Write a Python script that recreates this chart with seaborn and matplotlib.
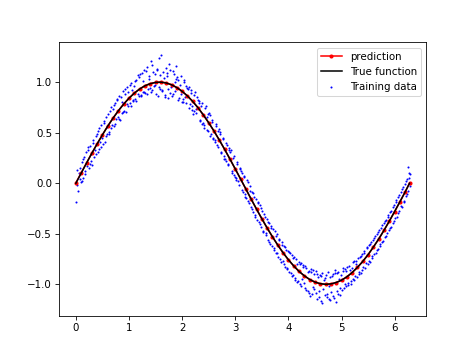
import matplotlib.pyplot as plt
import pandas as pd
import seaborn as sns

# curve values (x, y)
CURVE_X = [0.0, 0.1, 0.2, 0.3, 0.4, 0.5, 0.6, 0.7, 0.8, 0.9, 1.0, 1.1, 1.2, 1.3, 1.4, 1.5,
           1.6, 1.7, 1.8, 1.9, 2.0, 2.1, 2.2, 2.3, 2.4, 2.5, 2.6, 2.7, 2.8, 2.9, 3.0, 3.1,
           3.2, 3.3, 3.4, 3.5, 3.6, 3.7, 3.8, 3.9, 4.0, 4.1, 4.2, 4.3, 4.4, 4.5, 4.6, 4.7,
           4.8, 4.9, 5.0, 5.1, 5.2, 5.3, 5.4, 5.5, 5.6, 5.7, 5.8, 5.9, 6.0, 6.1, 6.2, 6.28]
TRUE_Y = [0.000, 0.100, 0.199, 0.296, 0.389, 0.479, 0.565, 0.644, 0.717, 0.783, 0.841,
          0.891, 0.932, 0.964, 0.985, 0.997, 1.000, 0.992, 0.974, 0.946, 0.909, 0.863,
          0.808, 0.746, 0.675, 0.598, 0.516, 0.427, 0.335, 0.239, 0.141, 0.042, -0.058,
          -0.158, -0.256, -0.351, -0.443, -0.530, -0.612, -0.688, -0.757, -0.818, -0.872,
          -0.916, -0.952, -0.978, -0.994, -1.000, -0.996, -0.982, -0.959, -0.926, -0.883,
          -0.832, -0.773, -0.706, -0.631, -0.551, -0.465, -0.374, -0.279, -0.182, -0.083, 0.000]
PRED_Y = [0.005, 0.102, 0.200, 0.297, 0.390, 0.480, 0.566, 0.645, 0.718, 0.784, 0.842,
          0.892, 0.933, 0.965, 0.986, 0.998, 1.001, 0.993, 0.975, 0.947, 0.910, 0.864,
          0.809, 0.746, 0.675, 0.598, 0.515, 0.426, 0.334, 0.238, 0.140, 0.041, -0.059,
          -0.159, -0.257, -0.352, -0.444, -0.531, -0.613, -0.689, -0.758, -0.819, -0.873,
          -0.917, -0.953, -0.979, -0.995, -1.001, -0.997, -0.983, -0.960, -0.927, -0.884,
          -0.833, -0.774, -0.707, -0.632, -0.552, -0.466, -0.375, -0.280, -0.183, -0.084, 0.002]

# noisy training samples, first batch
TRAIN_X = [0.01, 0.03, 0.06, 0.08, 0.11, 0.13, 0.16, 0.18, 0.21, 0.23, 0.26, 0.28,
           0.31, 0.33, 0.36, 0.38, 0.41, 0.43, 0.46, 0.48, 0.51, 0.53, 0.56, 0.58,
           0.61, 0.63, 0.66, 0.68, 0.71, 0.73, 0.76, 0.78, 0.81, 0.83, 0.86, 0.88,
           0.91, 0.93, 0.96, 0.98, 1.01, 1.03, 1.06, 1.08, 1.11, 1.13, 1.16, 1.18,
           1.21, 1.23, 1.26, 1.28, 1.31, 1.33, 1.36, 1.38, 1.41, 1.43, 1.46, 1.48,
           1.51, 1.53, 1.56, 1.58, 1.61, 1.63, 1.66, 1.68, 1.71, 1.73, 1.76, 1.78,
           1.81, 1.83, 1.86, 1.88, 1.91, 1.93, 1.96, 1.98, 2.01, 2.03, 2.06, 2.08,
           2.11, 2.13, 2.16, 2.18, 2.21, 2.23, 2.26, 2.28, 2.31, 2.33, 2.36, 2.38,
           2.41, 2.43, 2.46, 2.48, 2.51, 2.53, 2.56, 2.58, 2.61, 2.63, 2.66, 2.68,
           2.71, 2.73, 2.76, 2.78, 2.81, 2.83, 2.86, 2.88, 2.91, 2.93, 2.96, 2.98,
           3.01, 3.03, 3.06, 3.08, 3.11, 3.13, 3.16, 3.18, 3.21, 3.23, 3.26, 3.28,
           3.31, 3.33, 3.36, 3.38, 3.41, 3.43, 3.46, 3.48, 3.51, 3.53, 3.56, 3.58,
           3.61, 3.63, 3.66, 3.68, 3.71, 3.73, 3.76, 3.78, 3.81, 3.83, 3.86, 3.88,
           3.91, 3.93, 3.96, 3.98, 4.01, 4.03, 4.06, 4.08, 4.11, 4.13, 4.16, 4.18,
           4.21, 4.23, 4.26, 4.28, 4.31, 4.33, 4.36, 4.38, 4.41, 4.43, 4.46, 4.48,
           4.51, 4.53, 4.56, 4.58, 4.61, 4.63, 4.66, 4.68, 4.71, 4.73, 4.76, 4.78,
           4.81, 4.83, 4.86, 4.88, 4.91, 4.93, 4.96, 4.98, 5.01, 5.03, 5.06, 5.08,
           5.11, 5.13, 5.16, 5.18, 5.21, 5.23, 5.26, 5.28, 5.31, 5.33, 5.36, 5.38,
           5.41, 5.43, 5.46, 5.48, 5.51, 5.53, 5.56, 5.58, 5.61, 5.63, 5.66, 5.68,
           5.71, 5.73, 5.76, 5.78, 5.81, 5.83, 5.86, 5.88, 5.91, 5.93, 5.96, 5.98,
           6.01, 6.03, 6.06, 6.08, 6.11, 6.13, 6.16, 6.18, 6.21, 6.23, 6.26, 6.28,
           6.25, 6.27]
TRAIN_Y = [-0.19, -0.02, 0.10, 0.04, 0.21, 0.05, 0.26, 0.09,
           0.17, 0.36, 0.19, 0.29, 0.18, 0.40, 0.33, 0.47,
           0.52, 0.34, 0.41, 0.58, 0.39, 0.62, 0.47, 0.56,
           0.68, 0.51, 0.75, 0.58, 0.57, 0.79, 0.64, 0.83,
           0.86, 0.63, 0.80, 0.70, 0.71, 0.93, 0.78, 0.90,
           0.97, 0.76, 0.92, 0.81, 0.83, 1.02, 0.88, 1.05,
           1.08, 0.86, 1.01, 0.90, 0.89, 1.15, 0.93, 1.06,
           1.21, 0.92, 1.10, 0.97, 0.88, 1.13, 0.95, 1.07,
           1.27, 0.91, 1.04, 0.85, 1.09, 0.93, 1.18, 0.89,
           0.86, 1.11, 1.00, 1.16, 1.05, 0.82, 0.97, 0.88,
           0.80, 1.02, 0.85, 0.96, 0.93, 0.74, 0.89, 0.76,
           0.68, 0.87, 0.73, 0.85, 0.81, 0.63, 0.76, 0.59,
           0.58, 0.74, 0.66, 0.52, 0.69, 0.47, 0.61, 0.44,
           0.43, 0.59, 0.38, 0.52, 0.51, 0.31, 0.44, 0.27,
           0.24, 0.40, 0.19, 0.33, 0.31, 0.12, 0.25, 0.08,
           0.05, 0.21, 0.02, 0.14, 0.12, -0.07, 0.06, -0.11,
           -0.15, 0.01, -0.20, -0.08, -0.09, -0.28, -0.14, -0.31,
           -0.36, -0.19, -0.40, -0.25, -0.27, -0.47, -0.33, -0.51,
           -0.56, -0.39, -0.60, -0.44, -0.45, -0.66, -0.52, -0.69,
           -0.73, -0.55, -0.78, -0.61, -0.62, -0.83, -0.66, -0.85,
           -0.88, -0.69, -0.92, -0.74, -0.73, -0.96, -0.80, -0.97,
           -1.00, -0.79, -0.95, -0.83, -0.82, -1.06, -0.88, -1.09,
           -1.12, -0.85, -1.03, -0.90, -0.87, -1.15, -0.93, -1.07,
           -1.17, -0.89, -1.05, -0.94, -0.91, -1.13, -1.02, -1.16,
           -1.08, -0.90, -1.14, -0.86, -0.89, -1.10, -0.95, -1.04,
           -1.06, -0.84, -1.00, -0.87, -0.83, -1.01, -0.86, -0.97,
           -0.95, -0.77, -0.92, -0.80, -0.74, -0.90, -0.72, -0.86,
           -0.83, -0.67, -0.79, -0.63, -0.61, -0.78, -0.58, -0.72,
           -0.70, -0.52, -0.66, -0.48, -0.46, -0.62, -0.41, -0.57,
           -0.53, -0.36, -0.49, -0.31, -0.28, -0.43, -0.24, -0.37,
           -0.34, -0.17, -0.29, -0.12, -0.09, -0.24, -0.04, -0.18,
           -0.13, 0.04, -0.08, 0.09, 0.16, 0.05]

# noisy training samples, second batch
TRAIN_X2 = [0.02, 0.04, 0.07, 0.09, 0.12, 0.14, 0.17, 0.19, 0.22, 0.24, 0.27, 0.29,
            0.32, 0.34, 0.37, 0.39, 0.42, 0.44, 0.47, 0.49, 0.52, 0.54, 0.57, 0.59,
            0.62, 0.64, 0.67, 0.69, 0.72, 0.74, 0.77, 0.79, 0.82, 0.84, 0.87, 0.89,
            0.92, 0.94, 0.97, 0.99, 1.02, 1.04, 1.07, 1.09, 1.12, 1.14, 1.17, 1.19,
            1.22, 1.24, 1.27, 1.29, 1.32, 1.34, 1.37, 1.39, 1.42, 1.44, 1.47, 1.49,
            1.52, 1.54, 1.57, 1.59, 1.62, 1.64, 1.67, 1.69, 1.72, 1.74, 1.77, 1.79,
            1.82, 1.84, 1.87, 1.89, 1.92, 1.94, 1.97, 1.99, 2.02, 2.04, 2.07, 2.09,
            2.12, 2.14, 2.17, 2.19, 2.22, 2.24, 2.27, 2.29, 2.32, 2.34, 2.37, 2.39,
            2.42, 2.44, 2.47, 2.49, 2.52, 2.54, 2.57, 2.59, 2.62, 2.64, 2.67, 2.69,
            2.72, 2.74, 2.77, 2.79, 2.82, 2.84, 2.87, 2.89, 2.92, 2.94, 2.97, 2.99,
            3.02, 3.04, 3.07, 3.09, 3.12, 3.14, 3.17, 3.19, 3.22, 3.24, 3.27, 3.29,
            3.32, 3.34, 3.37, 3.39, 3.42, 3.44, 3.47, 3.49, 3.52, 3.54, 3.57, 3.59,
            3.62, 3.64, 3.67, 3.69, 3.72, 3.74, 3.77, 3.79, 3.82, 3.84, 3.87, 3.89,
            3.92, 3.94, 3.97, 3.99, 4.02, 4.04, 4.07, 4.09, 4.12, 4.14, 4.17, 4.19,
            4.22, 4.24, 4.27, 4.29, 4.32, 4.34, 4.37, 4.39, 4.42, 4.44, 4.47, 4.49,
            4.52, 4.54, 4.57, 4.59, 4.62, 4.64, 4.67, 4.69, 4.72, 4.74, 4.77, 4.79,
            4.82, 4.84, 4.87, 4.89, 4.92, 4.94, 4.97, 4.99, 5.02, 5.04, 5.07, 5.09,
            5.12, 5.14, 5.17, 5.19, 5.22, 5.24, 5.27, 5.29, 5.32, 5.34, 5.37, 5.39,
            5.42, 5.44, 5.47, 5.49, 5.52, 5.54, 5.57, 5.59, 5.62, 5.64, 5.67, 5.69,
            5.72, 5.74, 5.77, 5.79, 5.82, 5.84, 5.87, 5.89, 5.92, 5.94, 5.97, 5.99,
            6.02, 6.04, 6.07, 6.09, 6.12, 6.14, 6.17, 6.19, 6.22, 6.24, 6.27, 6.28]
TRAIN_Y2 = [0.13, -0.08, 0.15, 0.01, 0.02, 0.24, 0.12, 0.31,
            0.33, 0.15, 0.37, 0.22, 0.43, 0.26, 0.29, 0.49,
            0.31, 0.55, 0.36, 0.45, 0.60, 0.41, 0.66, 0.49,
            0.49, 0.71, 0.55, 0.73, 0.77, 0.59, 0.82, 0.66,
            0.64, 0.85, 0.69, 0.91, 0.88, 0.70, 0.95, 0.76,
            0.79, 0.99, 0.82, 0.96, 1.01, 0.81, 1.07, 0.86,
            0.87, 1.09, 0.90, 1.12, 1.11, 0.88, 1.03, 0.94,
            0.90, 1.17, 0.96, 1.08, 1.12, 0.86, 1.24, 0.93,
            0.92, 1.10, 0.87, 1.14, 1.06, 0.84, 1.12, 0.95,
            0.88, 1.08, 0.91, 1.03, 1.02, 0.84, 1.06, 0.80,
            0.83, 1.00, 0.79, 0.94, 0.95, 0.78, 0.92, 0.72,
            0.71, 0.90, 0.69, 0.82, 0.79, 0.62, 0.79, 0.60,
            0.55, 0.76, 0.53, 0.68, 0.67, 0.49, 0.63, 0.45,
            0.41, 0.57, 0.36, 0.54, 0.49, 0.30, 0.45, 0.24,
            0.22, 0.38, 0.18, 0.35, 0.33, 0.10, 0.27, 0.06,
            0.03, 0.19, -0.02, 0.15, 0.10, -0.09, 0.07, -0.14,
            0.03, -0.18, -0.03, -0.24, -0.26, -0.10, -0.33, -0.16,
            -0.20, -0.38, -0.22, -0.43, -0.48, -0.30, -0.49, -0.35,
            -0.38, -0.58, -0.42, -0.62, -0.64, -0.47, -0.69, -0.50,
            -0.56, -0.75, -0.58, -0.77, -0.80, -0.63, -0.84, -0.67,
            -0.68, -0.89, -0.71, -0.91, -0.94, -0.75, -0.98, -0.78,
            -0.80, -1.02, -0.81, -0.99, -1.04, -0.84, -1.07, -0.87,
            -0.88, -1.10, -0.86, -1.05, -1.09, -0.90, -1.13, -0.91,
            -0.92, -1.19, -0.96, -1.11, -1.10, -0.88, -1.15, -0.93,
            -0.92, -1.12, -0.89, -1.18, -1.07, -0.88, -1.11, -0.91,
            -0.87, -1.04, -0.85, -1.02, -0.99, -0.82, -1.00, -0.84,
            -0.78, -0.96, -0.77, -0.93, -0.88, -0.73, -0.89, -0.70,
            -0.69, -0.84, -0.64, -0.80, -0.77, -0.60, -0.74, -0.56,
            -0.54, -0.69, -0.50, -0.65, -0.60, -0.44, -0.58, -0.39,
            -0.37, -0.52, -0.33, -0.46, -0.44, -0.27, -0.39, -0.22,
            -0.19, -0.33, -0.14, -0.27, -0.23, -0.06, -0.19, -0.01,
            0.02, -0.11, 0.10, -0.03]


def main() -> None:
    curve = pd.DataFrame({"x": CURVE_X, "true": TRUE_Y, "pred": PRED_Y})
    train = pd.DataFrame({"x": TRAIN_X + TRAIN_X2, "y": TRAIN_Y + TRAIN_Y2})

    fig, ax = plt.subplots(figsize=(6.4, 4.8), dpi=74)
    sns.lineplot(data=curve, x="x", y="pred", color="red", marker=".", markersize=8,
                 markeredgewidth=0, linewidth=1.5, label="prediction", ax=ax)
    sns.lineplot(data=curve, x="x", y="true", color="black", linewidth=1.5,
                 label="True function", ax=ax)
    sns.scatterplot(data=train, x="x", y="y", color="blue", s=4, linewidth=0,
                    label="Training data", ax=ax)
    ax.set_xlabel("")
    ax.set_ylabel("")
    ax.legend(loc="upper right")
    fig.savefig("out.png", dpi=74)


if __name__ == "__main__":
    main()
